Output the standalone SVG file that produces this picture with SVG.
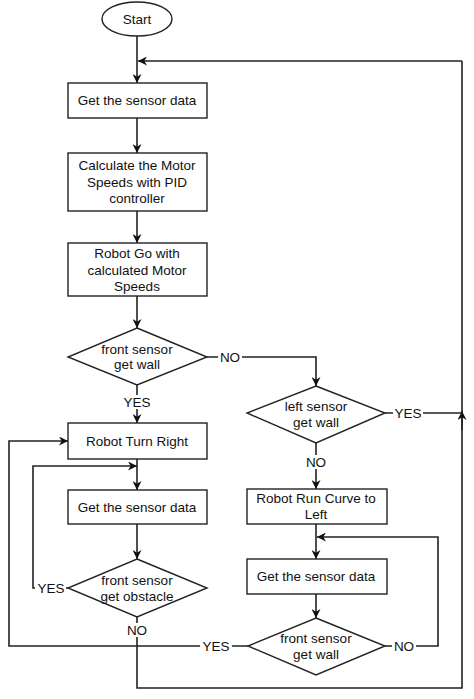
<svg xmlns="http://www.w3.org/2000/svg" width="474" height="699" viewBox="0 0 474 699">
<defs>
<marker id="ah" viewBox="0 0 10 10" refX="10" refY="5" markerWidth="9" markerHeight="9" markerUnits="userSpaceOnUse" orient="auto">
<path d="M0,0 L10,5 L0,10 L3,5 Z" fill="#111"/>
</marker>
</defs>
<style>
.box{fill:#fff;stroke:#222;stroke-width:1.4}
.ln{fill:none;stroke:#222;stroke-width:1.6}
.arr{fill:none;stroke:#222;stroke-width:1.6;marker-end:url(#ah)}
text{font-family:"Liberation Sans",Arial,sans-serif;font-size:13.5px;fill:#111;text-anchor:middle;dominant-baseline:central}
.lbl{fill:#fff}
</style>
<rect width="474" height="699" fill="#fff"/>
<g id="connectors">
<line class="arr" x1="137" y1="36" x2="137" y2="83"/>
<line class="arr" x1="137" y1="118" x2="137" y2="153"/>
<line class="arr" x1="137" y1="211" x2="137" y2="243"/>
<line class="arr" x1="137" y1="296" x2="137" y2="328"/>
<polyline class="arr" points="207,357 316,357 316,386"/>
<line class="arr" x1="137" y1="385" x2="137" y2="423"/>
<line class="arr" x1="137" y1="459" x2="137" y2="490"/>
<line class="arr" x1="137" y1="524" x2="137" y2="559"/>
<polyline class="arr" points="68,588 33,588 33,466 137,466"/>
<polyline class="ln" points="137,617 137,688 462,688 462,61"/>
<line class="arr" x1="462" y1="430" x2="462" y2="411"/>
<line class="arr" x1="462" y1="61" x2="138" y2="61"/>
<line class="ln" x1="385" y1="413" x2="462" y2="413"/>
<line class="arr" x1="316" y1="443" x2="316" y2="489"/>
<line class="arr" x1="316" y1="524" x2="316" y2="559"/>
<line class="arr" x1="316" y1="594" x2="316" y2="618"/>
<polyline class="arr" points="385,646 438,646 438,537 317,537"/>
<polyline class="arr" points="248,646 9,646 9,441 68,441"/>
</g>
<g id="edge-labels">
<rect class="lbl" x="218" y="350" width="24" height="14"/><text x="230" y="357">NO</text>
<rect class="lbl" x="122" y="395" width="30" height="14"/><text x="137" y="402">YES</text>
<rect class="lbl" x="393" y="406" width="30" height="14"/><text x="408" y="413">YES</text>
<rect class="lbl" x="304" y="455" width="24" height="14"/><text x="316" y="462">NO</text>
<rect class="lbl" x="35" y="581" width="31" height="14"/><text x="51" y="588">YES</text>
<rect class="lbl" x="125" y="623" width="24" height="14"/><text x="137" y="630">NO</text>
<rect class="lbl" x="200" y="639" width="32" height="14"/><text x="216" y="646">YES</text>
<rect class="lbl" x="392" y="639" width="24" height="14"/><text x="404" y="646">NO</text>
</g>
<g id="start"><ellipse class="box" cx="137" cy="19" rx="35" ry="17"/><text x="137" y="19">Start</text></g>
<g id="get-sensor-1"><rect class="box" x="68" y="83" width="139" height="35"/><text x="137" y="100.5">Get the sensor data</text></g>
<g id="calc-pid"><rect class="box" x="68" y="153" width="139" height="58"/><text x="137" y="165">Calculate the Motor</text><text x="137" y="182">Speeds with PID</text><text x="137" y="198">controller</text></g>
<g id="robot-go"><rect class="box" x="68" y="243" width="139" height="53"/><text x="137" y="253">Robot Go with</text><text x="137" y="270">calculated Motor</text><text x="137" y="286">Speeds</text></g>
<g id="front-wall-1"><polygon class="box" points="137,328 207,357 137,385 68,357"/><text x="137" y="349">front sensor</text><text x="137" y="364">get wall</text></g>
<g id="left-wall"><polygon class="box" points="316,386 385,413 316,443 247,413"/><text x="316" y="406">left sensor</text><text x="316" y="422">get wall</text></g>
<g id="turn-right"><rect class="box" x="68" y="423" width="139" height="36"/><text x="137" y="441">Robot Turn Right</text></g>
<g id="get-sensor-2"><rect class="box" x="68" y="490" width="139" height="34"/><text x="137" y="507">Get the sensor data</text></g>
<g id="front-obstacle"><polygon class="box" points="137,559 207,588 137,617 68,588"/><text x="137" y="580">front sensor</text><text x="137" y="596">get obstacle</text></g>
<g id="curve-left"><rect class="box" x="247" y="489" width="140" height="35"/><text x="316" y="498">Robot Run Curve to</text><text x="316" y="514">Left</text></g>
<g id="get-sensor-3"><rect class="box" x="247" y="559" width="140" height="35"/><text x="316" y="576.5">Get the sensor data</text></g>
<g id="front-wall-2"><polygon class="box" points="316,618 385,646 316,675 248,646"/><text x="316" y="638">front sensor</text><text x="316" y="654">get wall</text></g>
</svg>
